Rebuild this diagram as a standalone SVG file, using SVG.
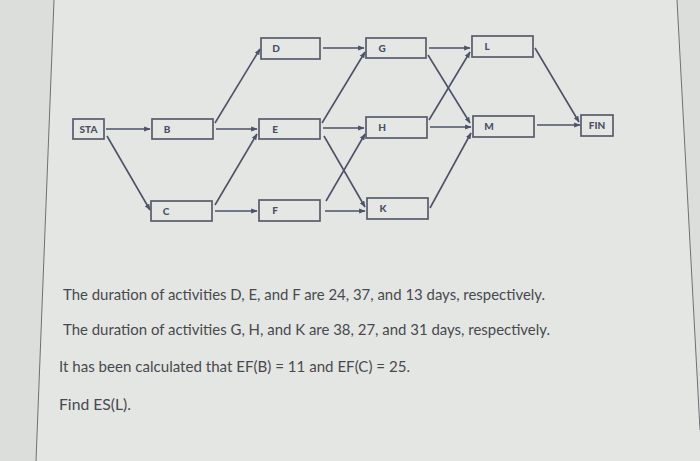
<svg xmlns="http://www.w3.org/2000/svg" width="700" height="461" viewBox="0 0 700 461">
<defs>
<marker id="ah" viewBox="0 0 10 10" refX="9" refY="5" markerWidth="6.5" markerHeight="6.5" orient="auto" markerUnits="userSpaceOnUse">
<path d="M0,1 L10,5 L0,9 Z" fill="#4c5268"/>
</marker>
</defs>
<style>
.bx{fill:#e5e7e5;stroke:#575c6c;stroke-width:1.7}
.lb{font-family:"Lato","Open Sans","Liberation Sans",sans-serif;font-weight:900;font-size:10px;fill:#4a4f66}
.cn line{stroke:#4c5268;stroke-width:1.6;marker-end:url(#ah)}
.tx{font-family:"Lato","Open Sans","Liberation Sans",sans-serif;font-size:16px;fill:#48494f}
.edge{stroke:#6d7075;stroke-width:1;fill:none}
</style>
<rect x="0" y="0" width="700" height="461" fill="#dcdedc"/>
<polygon points="54,0 677,0 700,430 700,461 36,461" fill="#e4e6e3"/>
<line class="edge" x1="54" y1="0" x2="36" y2="461"/>
<line class="edge" x1="677" y1="0" x2="700" y2="430"/>

<g class="cn" id="connectors">
<line x1="106" y1="129" x2="150" y2="129"/>
<line x1="107" y1="136" x2="150" y2="210"/>
<line x1="215" y1="123" x2="260" y2="49"/>
<line x1="216" y1="129" x2="257" y2="129"/>
<line x1="215" y1="205" x2="257" y2="134"/>
<line x1="215" y1="211" x2="257" y2="211"/>
<line x1="323" y1="48" x2="364" y2="48"/>
<line x1="322" y1="123" x2="365" y2="52"/>
<line x1="323" y1="128" x2="364" y2="128"/>
<line x1="324" y1="136" x2="365" y2="207"/>
<line x1="326" y1="201" x2="365" y2="134"/>
<line x1="325" y1="211" x2="365" y2="211"/>
<line x1="429" y1="48" x2="470" y2="48"/>
<line x1="428" y1="55" x2="470" y2="123"/>
<line x1="429" y1="120" x2="470" y2="52"/>
<line x1="430" y1="127" x2="471" y2="127"/>
<line x1="430" y1="208" x2="471" y2="133"/>
<line x1="535" y1="48" x2="579" y2="122"/>
<line x1="537" y1="125" x2="580" y2="125"/>
</g>

<g id="STA"><rect class="bx" x="73" y="119" width="31" height="20"/><text class="lb" x="88.5" y="132.5" text-anchor="middle">STA</text></g>
<g id="B"><rect class="bx" x="152" y="119" width="61" height="20"/><text class="lb" x="167" y="132.5" text-anchor="middle">B</text></g>
<g id="C"><rect class="bx" x="151" y="201" width="61" height="20"/><text class="lb" x="166" y="214.5" text-anchor="middle">C</text></g>
<g id="D"><rect class="bx" x="261" y="38" width="59" height="21"/><text class="lb" x="276" y="51.5" text-anchor="middle">D</text></g>
<g id="E"><rect class="bx" x="259" y="119" width="61" height="20"/><text class="lb" x="275" y="132.5" text-anchor="middle">E</text></g>
<g id="F"><rect class="bx" x="259" y="200" width="61" height="21"/><text class="lb" x="275" y="213.5" text-anchor="middle">F</text></g>
<g id="G"><rect class="bx" x="366" y="38" width="60" height="20"/><text class="lb" x="382" y="51.5" text-anchor="middle">G</text></g>
<g id="H"><rect class="bx" x="366" y="117" width="61" height="21"/><text class="lb" x="382" y="130.5" text-anchor="middle">H</text></g>
<g id="K"><rect class="bx" x="367" y="198" width="61" height="21"/><text class="lb" x="383" y="211.5" text-anchor="middle">K</text></g>
<g id="L"><rect class="bx" x="472" y="36" width="61" height="21"/><text class="lb" x="487" y="49.5" text-anchor="middle">L</text></g>
<g id="M"><rect class="bx" x="473" y="116" width="61" height="21"/><text class="lb" x="489" y="129.5" text-anchor="middle">M</text></g>
<g id="FIN"><rect class="bx" x="581" y="115" width="32" height="21"/><text class="lb" x="597" y="128.5" text-anchor="middle">FIN</text></g>

<text class="tx" x="63" y="300" textLength="482" lengthAdjust="spacingAndGlyphs">The duration of activities D, E, and F are 24, 37, and 13 days, respectively.</text>
<text class="tx" x="63" y="335" textLength="487" lengthAdjust="spacingAndGlyphs">The duration of activities G, H, and K are 38, 27, and 31 days, respectively.</text>
<text class="tx" x="59" y="372" textLength="351" lengthAdjust="spacingAndGlyphs">It has been calculated that EF(B) = 11 and EF(C) = 25.</text>
<text class="tx" x="59" y="410" textLength="72" lengthAdjust="spacingAndGlyphs">Find ES(L).</text>
</svg>
